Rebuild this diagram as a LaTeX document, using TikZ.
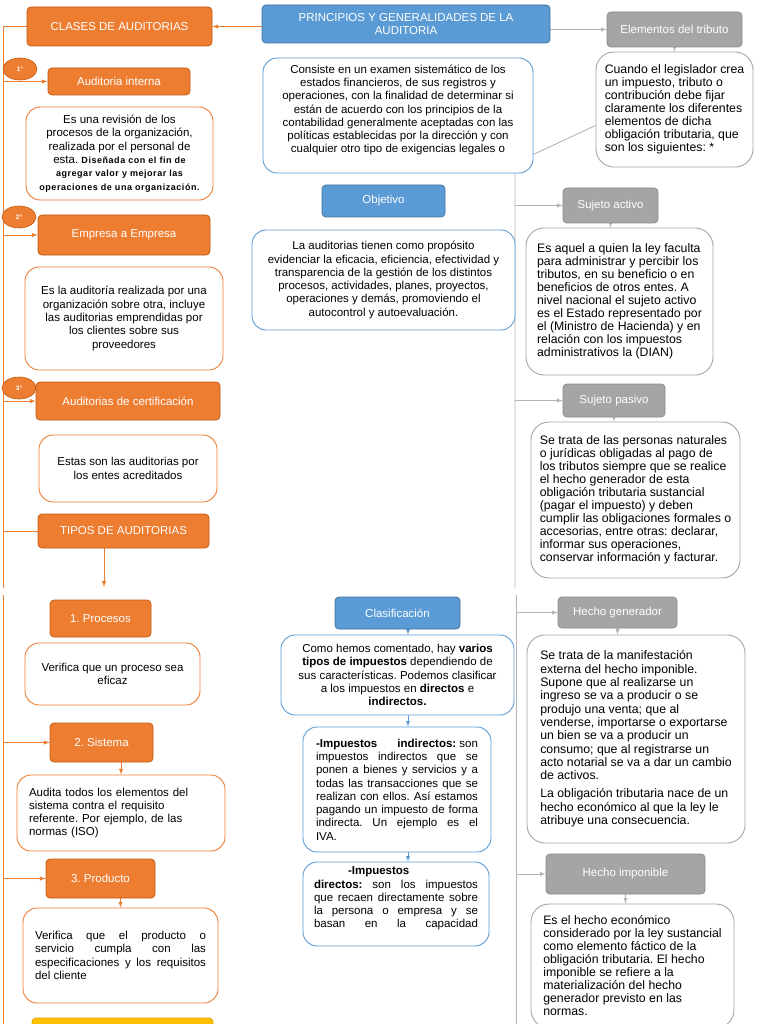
\documentclass[tikz,border=0pt]{standalone}
\usepackage{fontspec}
\setmainfont{Liberation Sans}
\usetikzlibrary{shapes.geometric,arrows,backgrounds}
\frenchspacing

\definecolor{naranja}{HTML}{ED7D31}
\definecolor{naranjaosc}{HTML}{C55A11}
\definecolor{azul}{HTML}{5B9BD5}
\definecolor{azulosc}{HTML}{41719C}
\definecolor{gris}{HTML}{A5A5A5}
\definecolor{grisosc}{HTML}{8A8A8A}
\definecolor{grislinea}{HTML}{B4B4B4}
\definecolor{amarillo}{HTML}{FFC000}
\definecolor{amarilloosc}{HTML}{E0A800}

\newcommand{\lj}[2]{\makebox[#1pt][s]{#2}}
\newcommand{\chica}{\fontsize{9}{11}\selectfont\bfseries\addfontfeatures{LetterSpace=6}}

\tikzset{
  tam/.style 2 args={minimum width=#1pt, minimum height=#2pt},
  titulo/.style={rounded corners=4pt, line width=0.8pt, text=white, align=center,
    inner sep=2pt, font=\fontsize{11.5}{12.5}\selectfont},
  tituloO/.style={titulo, fill=naranja, draw=naranjaosc},
  tituloB/.style={titulo, fill=azul, draw=azulosc},
  tituloG/.style={titulo, fill=gris, draw=grisosc},
  texto/.style={rounded corners=14pt, fill=white, line width=0.9pt, inner sep=4pt,
    font=\fontsize{11.5}{13.3}\selectfont},
  textoO/.style={texto, draw=naranja, align=center},
  textoB/.style={texto, draw=azul, align=center},
  textoG/.style={texto, draw=gris, align=left, rounded corners=18pt,
    font=\fontsize{12.3}{13}\selectfont},
  numero/.style={ellipse, fill=naranja, draw=naranjaosc, line width=0.6pt, text=white,
    inner sep=0pt, font=\fontsize{6.5}{7}\selectfont\bfseries},
  lineaO/.style={draw=naranja, line width=1pt},
  lineaG/.style={draw=grislinea, line width=0.9pt},
  flechaO/.style={lineaO, -latex},
  flechaB/.style={draw=azul, line width=0.9pt, -latex},
  flechaG/.style={lineaG, -latex},
}

\begin{document}
\begin{tikzpicture}[x=1pt,y=-1pt]
\useasboundingbox (0,0) rectangle (768,1024);

% columna izquierda: clases de auditorias
\node[tituloO, tam={185}{39}] (clases) at (119.5,26.5) {CLASES DE AUDITORIAS};
\node[numero, tam={34}{22}] (uno) at (20,69) {1°};
\node[tituloO, tam={142}{27}] (interna) at (119,81.5) {Auditoria interna};
\node[textoO, tam={187}{93}] (interna-txt) at (119.5,153.5) {Es una revisión de los\\procesos de la organización,\\realizada por el personal de\\esta. {\chica Diseñada con el fin de}\\{\chica agregar valor y mejorar las}\\{\chica operaciones de una organización.}};
\node[numero, tam={34}{22}] (dos) at (19,217) {2°};
\node[tituloO, tam={172}{40}] (empresa) at (124,235) {Empresa a Empresa};
\node[textoO, tam={198}{103}] (empresa-txt) at (124,318.5) {Es la auditoría realizada por una\\organización sobre otra, incluye\\las auditorias emprendidas por\\los clientes sobre sus\\proveedores};
\node[numero, tam={34}{22}] (tres) at (19,388) {3°};
\node[tituloO, tam={184}{38}] (certif) at (128,401) {Auditorias de certificación};
\node[textoO, tam={178}{67}] (certif-txt) at (128,468.5) {Estas son las auditorias por\\los entes acreditados};
\node[tituloO, tam={171}{34}] (tipos) at (123.5,531) {TIPOS DE AUDITORIAS};

% tipos
\node[tituloO, tam={101}{37}] (procesos) at (100.5,618.5) {1. Procesos};
\node[textoO, tam={175}{62}] (procesos-txt) at (112.5,674) {Verifica que un proceso sea\\eficaz};
\node[tituloO, tam={103}{39}] (sistema) at (101.5,742.5) {2. Sistema};
\node[textoO, align=left, text width=184pt, inner xsep=12pt, tam={208}{76}] (sistema-txt) at (121,813) {Audita todos los elementos del\\sistema contra el requisito\\referente. Por ejemplo, de las\\normas (ISO)};
\node[tituloO, tam={109}{39}] (producto) at (100.5,878.5) {3. Producto};
\node[textoO, align=left, tam={195}{95}] (producto-txt) at (120.5,955.5) {\lj{171}{Verifica que el producto o}\\\lj{171}{servicio cumpla con las}\\\lj{171}{especificaciones y los requisitos}\\del cliente};
\node[textoO, fill=amarillo, draw=amarilloosc, rounded corners=4pt, tam={181}{28}] (siguiente) at (122.5,1032) {};

% columna central
\node[tituloB, tam={288}{38}] (principios) at (406,24) {PRINCIPIOS Y GENERALIDADES DE LA\\AUDITORIA};
\node[textoB, tam={270}{115}] (principios-txt) at (398,115.5) {Consiste en un examen sistemático de los\\estados financieros, de sus registros y\\operaciones, con la finalidad de determinar si\\están de acuerdo con los principios de la\\contabilidad generalmente aceptadas con las\\políticas establecidas por la dirección y con\\cualquier otro tipo de exigencias legales o\\\mbox{}};
\node[tituloB, tam={123}{32}] (objetivo) at (383.5,201) {Objetivo};
\node[textoB, tam={263}{100}] (objetivo-txt) at (383.5,280) {La auditorias tienen como propósito\\evidenciar la eficacia, eficiencia, efectividad y\\transparencia de la gestión de los distintos\\procesos, actividades, planes, proyectos,\\operaciones y demás, promoviendo el\\autocontrol y autoevaluación.};
\node[tituloB, tam={125}{32}] (clasif) at (397.5,613) {Clasificación};
\node[textoB, tam={233}{80}] (clasif-txt) at (397.5,675) {Como hemos comentado, hay \textbf{varios}\\\textbf{tipos de impuestos} dependiendo de\\sus características. Podemos clasificar\\a los impuestos en \textbf{directos} e\\\textbf{indirectos.}};
\node[textoB, align=left, tam={188}{125}] (indirectos) at (397,789.5) {\lj{162}{\textbf{-Impuestos}\hfill\textbf{indirectos:} son}\\\lj{162}{impuestos indirectos que se}\\\lj{162}{ponen a bienes y servicios y a}\\\lj{162}{todas las transacciones que se}\\\lj{162}{realizan con ellos. Así estamos}\\\lj{162}{pagando un impuesto de forma}\\\lj{162}{indirecta. Un ejemplo es el}\\IVA.};
\node[textoB, align=left, tam={186}{84}] (directos) at (396,904) {\hspace*{34pt}\textbf{-Impuestos}\\\lj{164}{\textbf{directos:} son los impuestos}\\\lj{164}{que recaen directamente sobre}\\\lj{164}{la persona o empresa y se}\\\lj{164}{basan en la capacidad}\\\mbox{}};

% columna derecha: elementos del tributo
\node[tituloG, tam={135}{35}] (elementos) at (674.5,29.5) {Elementos del tributo};
\node[textoG, tam={157}{115}] (elementos-txt) at (674.5,109.5) {Cuando el legislador crea\\un impuesto, tributo o\\contribución debe fijar\\claramente los diferentes\\elementos de dicha\\obligación tributaria, que\\son los siguientes: *};
\node[tituloG, tam={95}{35}] (activo) at (610.5,205.5) {Sujeto activo};
\node[textoG, tam={187}{147}] (activo-txt) at (619.5,301.5) {Es aquel a quien la ley faculta\\para administrar y percibir los\\tributos, en su beneficio o en\\beneficios de otros entes. A\\nivel nacional el sujeto activo\\es el Estado representado por\\el (Ministro de Hacienda) y en\\relación con los impuestos\\administrativos la (DIAN)};
\node[tituloG, tam={102}{33}] (pasivo) at (614,400.5) {Sujeto pasivo};
\node[textoG, tam={209}{156}] (pasivo-txt) at (635.5,500) {Se trata de las personas naturales\\o jurídicas obligadas al pago de\\los tributos siempre que se realice\\el hecho generador de esta\\obligación tributaria sustancial\\(pagar el impuesto) y deben\\cumplir las obligaciones formales o\\accesorias, entre otras: declarar,\\informar sus operaciones,\\conservar información y facturar.};
\node[tituloG, tam={119}{31}] (generador) at (617.5,612.5) {Hecho generador};
\node[textoG, tam={218}{208}, font=\fontsize{12.3}{13.3}\selectfont] (generador-txt) at (636,739) {Se trata de la manifestación\\externa del hecho imponible.\\Supone que al realizarse un\\ingreso se va a producir o se\\produjo una venta; que al\\venderse, importarse o exportarse\\un bien se va a producir un\\consumo; que al registrarse un\\acto notarial se va a dar un cambio\\de activos.\\[5pt]La obligación tributaria nace de un\\hecho económico al que la ley le\\atribuye una consecuencia.};
\node[tituloG, tam={159}{40}] (imponible) at (625.5,874) {Hecho imponible};
\node[textoG, tam={203}{124}] (imponible-txt) at (632.5,966) {Es el hecho económico\\considerado por la ley sustancial\\como elemento fáctico de la\\obligación tributaria. El hecho\\imponible se refiere a la\\materialización del hecho\\generador previsto en las\\normas.};

% conectores
\begin{scope}[on background layer]
\fill[white] (0,0) rectangle (768,1024);
\coordinate (izq-a) at (3,588);
\coordinate (izq-b) at (3,595);
\coordinate (izq-c) at (3,1024);
\draw[lineaO] (clases.west) -| (izq-a);
\draw[flechaO] (interna.west -| izq-a) -- (interna.west);
\draw[flechaO] (empresa.west -| izq-a) -- (empresa.west);
\draw[flechaO] (certif.west -| izq-a) -- (certif.west);
\draw[lineaO] (tipos.west -| izq-a) -- (tipos.west);
\coordinate (tipos-fin) at (104,587);
\draw[flechaO] (tipos.south -| tipos-fin) -- (tipos-fin);
\draw[lineaO] (izq-b) -- (izq-c);
\draw[flechaO] (sistema.west -| izq-b) -- (sistema.west);
\draw[flechaO] (producto.west -| izq-b) -- (producto.west);
\draw[flechaO] (sistema.south -| sistema-txt.north) -- (sistema-txt.north);
\draw[flechaO] (producto.south -| producto-txt.north) -- (producto-txt.north);
\draw[flechaO] (principios.west |- clases.east) -- (clases.east);

\coordinate (eje-azul) at (408,0);
\draw[flechaB] (clasif.south -| eje-azul) -- (clasif-txt.north -| eje-azul);
\draw[flechaB] (clasif-txt.south -| eje-azul) -- (indirectos.north -| eje-azul);
\draw[flechaB] (indirectos.south -| eje-azul) -- (directos.north -| eje-azul);

\coordinate (der-a) at (515,163);
\coordinate (der-b) at (515,588);
\coordinate (der-c) at (516,595);
\coordinate (der-d) at (516,1024);
\draw[flechaG] (principios.east |- elementos.west) -- (elementos.west);
\draw[lineaG] ([yshift=-16pt]elementos-txt.west) -- (der-a) -- (der-b);
\draw[flechaG] (activo.west -| der-a) -- (activo.west);
\draw[flechaG] (pasivo.west -| der-a) -- (pasivo.west);
\draw[lineaG] (der-c) -- (der-d);
\draw[flechaG] (generador.west -| der-c) -- (generador.west);
\draw[flechaG] (imponible.west -| der-c) -- (imponible.west);
\draw[flechaG] (elementos.south) -- (elementos.south |- elementos-txt.north);
\draw[flechaG] (activo.south) -- (activo.south |- activo-txt.north);
\draw[flechaG] (pasivo.south) -- (pasivo.south |- pasivo-txt.north);
\draw[flechaG] (generador.south) -- (generador.south |- generador-txt.north);
\draw[flechaG] (imponible.south) -- (imponible.south |- imponible-txt.north);
\end{scope}
\end{tikzpicture}
\end{document}
